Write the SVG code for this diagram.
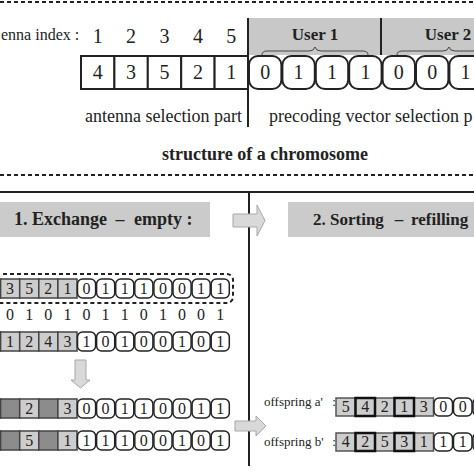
<svg xmlns="http://www.w3.org/2000/svg" width="474" height="474" viewBox="0 0 474 474">
<style>
.t{font-family:"Liberation Serif","Times New Roman","DejaVu Serif",serif;fill:#222}
.b{font-weight:bold}
.bigc{fill:#fff;stroke:#222;stroke-width:2}
.bit{fill:#fff;stroke:#222;stroke-width:2}
.sc{fill:#cdcdcd;stroke:#444;stroke-width:1.5}
.sd{fill:#8c8c8c;stroke:#444;stroke-width:1.5}
.sb{fill:#fff;stroke:#222;stroke-width:1.5}
.oc{fill:#cdcdcd;stroke:#555;stroke-width:1.5}
.ob{fill:#cdcdcd;stroke:#111;stroke-width:2.5}
.d20{font-size:20px;text-anchor:middle}
.d15{font-size:16px;text-anchor:middle}
.dash{stroke:#222;stroke-width:2;stroke-dasharray:4 3;fill:none}
.solid{stroke:#222;stroke-width:2;fill:none}
.arr{fill:#d9d9d9;stroke:#a8a8a8;stroke-width:1}
</style>

<g id="separators">
<line class="dash" x1="0" y1="2" x2="474" y2="2"/>
<line class="dash" x1="0" y1="175" x2="474" y2="175"/>
<line class="solid" x1="0" y1="192" x2="474" y2="192"/>
<line class="solid" x1="249" y1="192" x2="249" y2="466"/>
</g>

<g id="chromosome-structure">
<rect x="249" y="18" width="225" height="37" fill="#c8c8c8"/>
<line class="solid" x1="248" y1="18" x2="248" y2="127" stroke-width="1.5"/>
<line class="solid" x1="381" y1="18" x2="381" y2="55" stroke-width="1.5"/>
<text class="t b" x="315" y="40" font-size="17" text-anchor="middle">User 1</text>
<text class="t b" x="448" y="40" font-size="17" text-anchor="middle">User 2</text>
<path d="M262,55 q0,-4 5,-4 h42 q5,0 6,-4 q1,4 6,4 h42 q5,0 5,4" fill="none" stroke="#444" stroke-width="1"/>
<path d="M397,55 q0,-4 5,-4 h41 q5,0 6,-4 q1,4 6,4 h41 q5,0 5,4" fill="none" stroke="#444" stroke-width="1"/>
<text class="t" x="1" y="40" font-size="16">enna index :</text>
<text class="t d20" x="97.7" y="43">1</text>
<text class="t d20" x="131.1" y="43">2</text>
<text class="t d20" x="164.5" y="43">3</text>
<text class="t d20" x="197.9" y="43">4</text>
<text class="t d20" x="231.3" y="43">5</text>
<rect class="bigc" x="81" y="56" width="33.4" height="33"/>
<rect class="bigc" x="114.4" y="56" width="33.4" height="33"/>
<rect class="bigc" x="147.8" y="56" width="33.4" height="33"/>
<rect class="bigc" x="181.2" y="56" width="33.4" height="33"/>
<rect class="bigc" x="214.6" y="56" width="33.4" height="33"/>
<text class="t d20" x="97.7" y="79">4</text>
<text class="t d20" x="131.1" y="79">3</text>
<text class="t d20" x="164.5" y="79">5</text>
<text class="t d20" x="197.9" y="79">2</text>
<text class="t d20" x="231.3" y="79">1</text>
<rect class="bit" x="249" y="56" width="32.4" height="33" rx="9"/>
<rect class="bit" x="282.4" y="56" width="32.4" height="33" rx="9"/>
<rect class="bit" x="315.8" y="56" width="32.4" height="33" rx="9"/>
<rect class="bit" x="349.2" y="56" width="32.4" height="33" rx="9"/>
<rect class="bit" x="382.6" y="56" width="32.4" height="33" rx="9"/>
<rect class="bit" x="416" y="56" width="32.4" height="33" rx="9"/>
<rect class="bit" x="449.4" y="56" width="32.4" height="33" rx="9"/>
<text class="t d20" x="265.2" y="79">0</text>
<text class="t d20" x="298.6" y="79">1</text>
<text class="t d20" x="332" y="79">1</text>
<text class="t d20" x="365.4" y="79">1</text>
<text class="t d20" x="398.8" y="79">0</text>
<text class="t d20" x="432.2" y="79">0</text>
<text class="t d20" x="465.6" y="79">1</text>
<text class="t" x="85" y="122" font-size="18">antenna selection part</text>
<text class="t" x="269" y="122" font-size="18">precoding vector selection p</text>
<text class="t b" x="265" y="160" font-size="18" text-anchor="middle">structure of a chromosome</text>
</g>

<g id="step1-header">
<rect x="0" y="202" width="210" height="35" fill="#cbcbcb"/>
<text class="t b" x="14" y="225" font-size="18">1. Exchange</text>
<text class="t b" x="120" y="225" font-size="18" text-anchor="middle">–</text>
<text class="t b" x="134" y="225" font-size="18">empty :</text>
</g>

<g id="step2-header">
<rect x="288" y="202" width="186" height="35" fill="#cbcbcb"/>
<text class="t b" x="313" y="225" font-size="17">2. Sorting</text>
<text class="t b" x="399" y="225" font-size="17" text-anchor="middle">–</text>
<text class="t b" x="411" y="225" font-size="17">refilling</text>
</g>

<g id="parent-a">
<rect x="-10" y="274" width="243" height="29" rx="6" class="dash"/>
<rect class="sc" x="-18.5" y="279" width="19.1" height="19"/>
<rect class="sc" x="0.6" y="279" width="19.1" height="19"/>
<rect class="sc" x="19.7" y="279" width="19.1" height="19"/>
<rect class="sc" x="38.8" y="279" width="19.1" height="19"/>
<rect class="sc" x="57.9" y="279" width="19.1" height="19"/>
<rect class="sb" x="77.5" y="279" width="18.1" height="19" rx="5"/>
<rect class="sb" x="96.6" y="279" width="18.1" height="19" rx="5"/>
<rect class="sb" x="115.7" y="279" width="18.1" height="19" rx="5"/>
<rect class="sb" x="134.8" y="279" width="18.1" height="19" rx="5"/>
<rect class="sb" x="153.9" y="279" width="18.1" height="19" rx="5"/>
<rect class="sb" x="173" y="279" width="18.1" height="19" rx="5"/>
<rect class="sb" x="192.1" y="279" width="18.1" height="19" rx="5"/>
<rect class="sb" x="211.2" y="279" width="18.1" height="19" rx="5"/>
<text class="t d15" x="10.1" y="294">3</text>
<text class="t d15" x="29.2" y="294">5</text>
<text class="t d15" x="48.3" y="294">2</text>
<text class="t d15" x="67.4" y="294">1</text>
<text class="t d15" x="86.5" y="294">0</text>
<text class="t d15" x="105.6" y="294">1</text>
<text class="t d15" x="124.7" y="294">1</text>
<text class="t d15" x="143.8" y="294">1</text>
<text class="t d15" x="162.9" y="294">0</text>
<text class="t d15" x="182" y="294">0</text>
<text class="t d15" x="201.1" y="294">1</text>
<text class="t d15" x="220.2" y="294">1</text>
</g>

<g id="mask">
<text class="t d15" x="10.1" y="320">0</text>
<text class="t d15" x="29.2" y="320">1</text>
<text class="t d15" x="48.3" y="320">0</text>
<text class="t d15" x="67.4" y="320">1</text>
<text class="t d15" x="86.5" y="320">0</text>
<text class="t d15" x="105.6" y="320">1</text>
<text class="t d15" x="124.7" y="320">1</text>
<text class="t d15" x="143.8" y="320">0</text>
<text class="t d15" x="162.9" y="320">1</text>
<text class="t d15" x="182" y="320">0</text>
<text class="t d15" x="201.1" y="320">0</text>
<text class="t d15" x="220.2" y="320">1</text>
</g>

<g id="parent-b">
<rect class="sc" x="-18.5" y="332" width="19.1" height="19"/>
<rect class="sc" x="0.6" y="332" width="19.1" height="19"/>
<rect class="sc" x="19.7" y="332" width="19.1" height="19"/>
<rect class="sc" x="38.8" y="332" width="19.1" height="19"/>
<rect class="sc" x="57.9" y="332" width="19.1" height="19"/>
<rect class="sb" x="77.5" y="332" width="18.1" height="19" rx="5"/>
<rect class="sb" x="96.6" y="332" width="18.1" height="19" rx="5"/>
<rect class="sb" x="115.7" y="332" width="18.1" height="19" rx="5"/>
<rect class="sb" x="134.8" y="332" width="18.1" height="19" rx="5"/>
<rect class="sb" x="153.9" y="332" width="18.1" height="19" rx="5"/>
<rect class="sb" x="173" y="332" width="18.1" height="19" rx="5"/>
<rect class="sb" x="192.1" y="332" width="18.1" height="19" rx="5"/>
<rect class="sb" x="211.2" y="332" width="18.1" height="19" rx="5"/>
<text class="t d15" x="10.1" y="347">1</text>
<text class="t d15" x="29.2" y="347">2</text>
<text class="t d15" x="48.3" y="347">4</text>
<text class="t d15" x="67.4" y="347">3</text>
<text class="t d15" x="86.5" y="347">1</text>
<text class="t d15" x="105.6" y="347">0</text>
<text class="t d15" x="124.7" y="347">1</text>
<text class="t d15" x="143.8" y="347">0</text>
<text class="t d15" x="162.9" y="347">0</text>
<text class="t d15" x="182" y="347">1</text>
<text class="t d15" x="201.1" y="347">0</text>
<text class="t d15" x="220.2" y="347">1</text>
</g>

<g id="emptied-a">
<rect class="sd" x="-18.5" y="399" width="19.1" height="19"/>
<rect class="sd" x="0.6" y="399" width="19.1" height="19"/>
<rect class="sc" x="19.7" y="399" width="19.1" height="19"/>
<rect class="sd" x="38.8" y="399" width="19.1" height="19"/>
<rect class="sc" x="57.9" y="399" width="19.1" height="19"/>
<rect class="sb" x="77.5" y="399" width="18.1" height="19" rx="5"/>
<rect class="sb" x="96.6" y="399" width="18.1" height="19" rx="5"/>
<rect class="sb" x="115.7" y="399" width="18.1" height="19" rx="5"/>
<rect class="sb" x="134.8" y="399" width="18.1" height="19" rx="5"/>
<rect class="sb" x="153.9" y="399" width="18.1" height="19" rx="5"/>
<rect class="sb" x="173" y="399" width="18.1" height="19" rx="5"/>
<rect class="sb" x="192.1" y="399" width="18.1" height="19" rx="5"/>
<rect class="sb" x="211.2" y="399" width="18.1" height="19" rx="5"/>
<text class="t d15" x="29.2" y="414">2</text>
<text class="t d15" x="67.4" y="414">3</text>
<text class="t d15" x="86.5" y="414">0</text>
<text class="t d15" x="105.6" y="414">0</text>
<text class="t d15" x="124.7" y="414">1</text>
<text class="t d15" x="143.8" y="414">1</text>
<text class="t d15" x="162.9" y="414">0</text>
<text class="t d15" x="182" y="414">0</text>
<text class="t d15" x="201.1" y="414">1</text>
<text class="t d15" x="220.2" y="414">1</text>
</g>

<g id="emptied-b">
<rect class="sd" x="-18.5" y="431" width="19.1" height="19"/>
<rect class="sd" x="0.6" y="431" width="19.1" height="19"/>
<rect class="sc" x="19.7" y="431" width="19.1" height="19"/>
<rect class="sd" x="38.8" y="431" width="19.1" height="19"/>
<rect class="sc" x="57.9" y="431" width="19.1" height="19"/>
<rect class="sb" x="77.5" y="431" width="18.1" height="19" rx="5"/>
<rect class="sb" x="96.6" y="431" width="18.1" height="19" rx="5"/>
<rect class="sb" x="115.7" y="431" width="18.1" height="19" rx="5"/>
<rect class="sb" x="134.8" y="431" width="18.1" height="19" rx="5"/>
<rect class="sb" x="153.9" y="431" width="18.1" height="19" rx="5"/>
<rect class="sb" x="173" y="431" width="18.1" height="19" rx="5"/>
<rect class="sb" x="192.1" y="431" width="18.1" height="19" rx="5"/>
<rect class="sb" x="211.2" y="431" width="18.1" height="19" rx="5"/>
<text class="t d15" x="29.2" y="446">5</text>
<text class="t d15" x="67.4" y="446">1</text>
<text class="t d15" x="86.5" y="446">1</text>
<text class="t d15" x="105.6" y="446">1</text>
<text class="t d15" x="124.7" y="446">1</text>
<text class="t d15" x="143.8" y="446">0</text>
<text class="t d15" x="162.9" y="446">0</text>
<text class="t d15" x="182" y="446">1</text>
<text class="t d15" x="201.1" y="446">0</text>
<text class="t d15" x="220.2" y="446">1</text>
</g>

<g id="offspring-a">
<text class="t" x="264" y="406" font-size="13">offspring a'</text>
<text class="t" x="334" y="406" font-size="13" text-anchor="middle">:</text>
<rect class="oc" x="336" y="398" width="19.5" height="18"/>
<rect class="oc" x="375" y="398" width="19.5" height="18"/>
<rect class="oc" x="414" y="398" width="19.5" height="18"/>
<rect class="ob" x="355.5" y="398" width="19.5" height="18"/>
<rect class="ob" x="394.5" y="398" width="19.5" height="18"/>
<rect class="sb" x="434" y="398" width="18.5" height="18" rx="5"/>
<rect class="sb" x="453.5" y="398" width="18.5" height="18" rx="5"/>
<rect class="sb" x="473" y="398" width="18.5" height="18" rx="5"/>
<text class="t d15" x="345.8" y="412">5</text>
<text class="t d15" x="365.3" y="412">4</text>
<text class="t d15" x="384.8" y="412">2</text>
<text class="t d15" x="404.3" y="412">1</text>
<text class="t d15" x="423.8" y="412">3</text>
<text class="t d15" x="443.3" y="412">0</text>
<text class="t d15" x="462.8" y="412">0</text>
</g>

<g id="offspring-b">
<text class="t" x="264" y="446" font-size="13">offspring b'</text>
<text class="t" x="334" y="446" font-size="13" text-anchor="middle">:</text>
<rect class="oc" x="336" y="433" width="19.5" height="18"/>
<rect class="oc" x="375" y="433" width="19.5" height="18"/>
<rect class="oc" x="414" y="433" width="19.5" height="18"/>
<rect class="ob" x="355.5" y="433" width="19.5" height="18"/>
<rect class="ob" x="394.5" y="433" width="19.5" height="18"/>
<rect class="sb" x="434" y="433" width="18.5" height="18" rx="5"/>
<rect class="sb" x="453.5" y="433" width="18.5" height="18" rx="5"/>
<rect class="sb" x="473" y="433" width="18.5" height="18" rx="5"/>
<text class="t d15" x="345.8" y="447">4</text>
<text class="t d15" x="365.3" y="447">2</text>
<text class="t d15" x="384.8" y="447">5</text>
<text class="t d15" x="404.3" y="447">3</text>
<text class="t d15" x="423.8" y="447">1</text>
<text class="t d15" x="443.3" y="447">1</text>
<text class="t d15" x="462.8" y="447">1</text>
</g>

<g id="connectors">
<polygon class="arr" points="233,214 257,214 257,205 265,220.5 257,236 257,227 233,227"/>
<polygon class="arr" points="75,360 86,360 86,380 90,380 80.5,388 71,380 75,380"/>
<polygon class="arr" points="235,421 256,421 256,416 266,426 256,436 256,431 235,431"/>
</g>
</svg>
